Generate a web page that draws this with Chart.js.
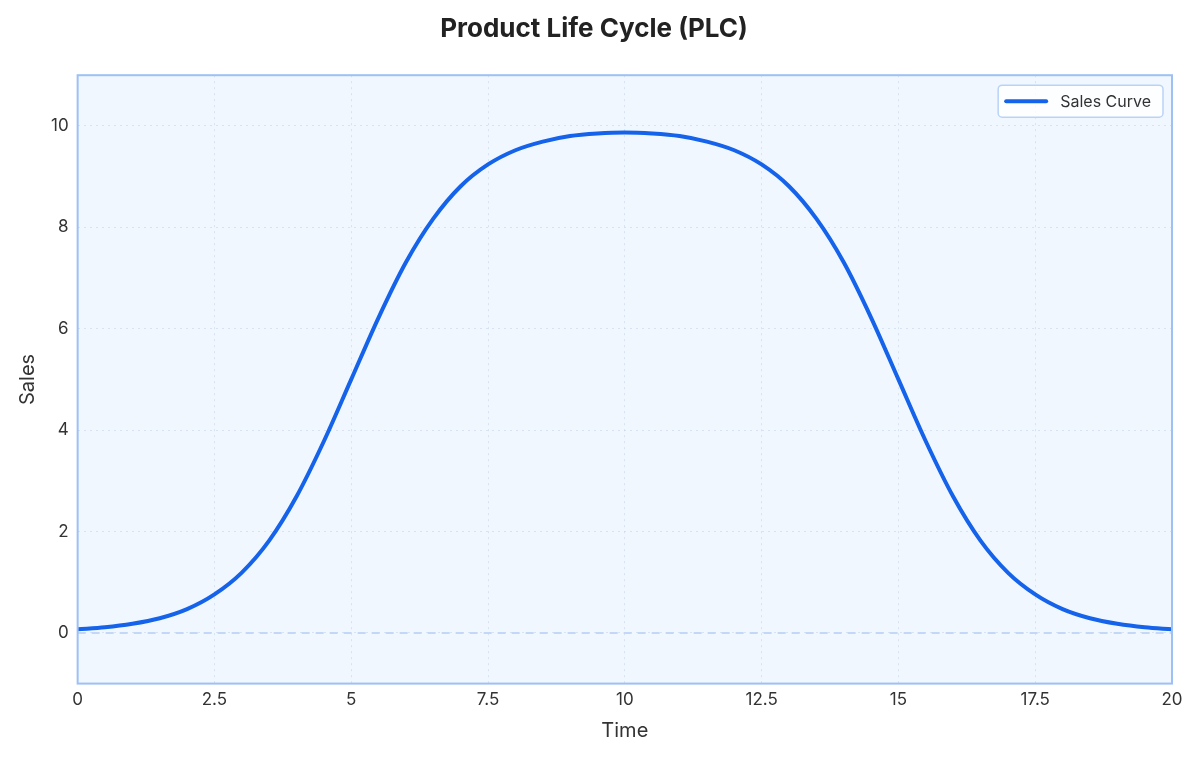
<!DOCTYPE html>
<html>
<head>
<meta charset="utf-8">
<script src="https://cdn.jsdelivr.net/npm/chart.js@4"></script>
<style>
  html, body { margin: 0; padding: 0; background: #ffffff; }
  #wrap { width: 1200px; height: 760px; position: relative; }
</style>
</head>
<body>
<div id="wrap"><canvas id="c" width="1200" height="760"></canvas></div>
<script>
const chartTitle = "Product Life Cycle (PLC)";
const xTitle = "Time";
const yTitle = "Sales";
const seriesLabel = "Sales Curve";
const timeValues = [0,0.5,1,1.5,2,2.5,3,3.5,4,4.5,5,5.5,6,6.5,7,7.5,8,8.5,9,9.5,10,
  10.5,11,11.5,12,12.5,13,13.5,14,14.5,15,15.5,16,16.5,17,17.5,18,18.5,19,19.5,20];
const salesValues = [0.07,0.11,0.18,0.29,0.47,0.76,1.19,1.82,2.69,3.78,5.00,6.22,7.31,8.17,8.81,9.24,9.52,9.69,9.80,9.85,9.87,
  9.85,9.80,9.69,9.52,9.24,8.81,8.17,7.31,6.22,5.00,3.78,2.69,1.82,1.19,0.76,0.47,0.29,0.18,0.11,0.07];
const xTicks = [0,2.5,5,7.5,10,12.5,15,17.5,20];
const yTicks = [0,2,4,6,8,10];
const baselineValue = 0;

const FONT = "Inter, 'Noto Sans', sans-serif";
const LINE_COLOR = "#1463ea";

const areaPlugin = {
  id: 'areaPlugin',
  beforeDraw(chart) {
    const {ctx, chartArea: a} = chart;
    ctx.save();
    ctx.fillStyle = "#f1f7fe";
    ctx.fillRect(a.left, a.top, a.right - a.left, a.bottom - a.top);
    ctx.restore();
  },
  afterDraw(chart) {
    const {ctx, chartArea: a} = chart;
    ctx.save();
    ctx.strokeStyle = "#9dc1f4";
    ctx.lineWidth = 2;
    ctx.strokeRect(a.left, a.top, a.right - a.left, a.bottom - a.top);
    // legend inside top-right
    const label = chart.data.datasets[0].label;
    ctx.font = "16px " + FONT;
    const tw = ctx.measureText(label).width;
    const bw = tw + 74, bh = 32;
    const bx = a.right - 9 - bw, by = a.top + 10;
    ctx.beginPath();
    if (ctx.roundRect) ctx.roundRect(bx, by, bw, bh, 4); else ctx.rect(bx, by, bw, bh);
    ctx.fillStyle = "rgba(255,255,255,0.8)";
    ctx.fill();
    ctx.strokeStyle = "#b9d3f7";
    ctx.lineWidth = 1.5;
    ctx.stroke();
    ctx.beginPath();
    ctx.lineCap = "round";
    ctx.strokeStyle = LINE_COLOR;
    ctx.lineWidth = 4;
    ctx.moveTo(bx + 8, by + bh / 2);
    ctx.lineTo(bx + 48, by + bh / 2);
    ctx.stroke();
    ctx.fillStyle = "#333333";
    ctx.textBaseline = "middle";
    ctx.textAlign = "left";
    ctx.fillText(label, bx + 62, by + bh / 2 + 1);
    ctx.restore();
  }
};

const ctx = document.getElementById('c').getContext('2d');
new Chart(ctx, {
  type: 'line',
  data: {
    datasets: [
      {
        label: seriesLabel,
        data: timeValues.map((t, i) => ({x: t, y: salesValues[i]})),
        borderColor: LINE_COLOR,
        borderWidth: 4,
        pointRadius: 0,
        fill: false,
        cubicInterpolationMode: 'monotone',
        order: 1
      },
      {
        label: 'baseline',
        data: [{x: timeValues[0], y: baselineValue}, {x: timeValues[timeValues.length - 1], y: baselineValue}],
        borderColor: "#c3d7f7",
        borderWidth: 2,
        borderDash: [8, 6],
        pointRadius: 0,
        fill: false,
        order: 2
      }
    ]
  },
  plugins: [areaPlugin],
  options: {
    responsive: false,
    animation: false,
    devicePixelRatio: 1,
    layout: { padding: { left: 16, right: 28, top: 10, bottom: 17 } },
    plugins: {
      legend: { display: false },
      tooltip: { enabled: false },
      title: {
        display: true,
        text: chartTitle,
        color: "#222222",
        font: { family: FONT, size: 26, weight: 'bold' },
        padding: { top: 4, bottom: 30 }
      }
    },
    scales: {
      x: {
        type: 'linear',
        min: 0,
        max: 20,
        afterBuildTicks(scale) { scale.ticks = xTicks.map(v => ({value: v})); },
        ticks: {
          color: "#333333",
          font: { family: FONT, size: 17 },
          padding: 6,
          callback: v => String(v)
        },
        grid: { color: "rgba(190,205,230,0.5)", lineWidth: 1, drawTicks: false },
        border: { display: false, dash: [2, 4] },
        title: {
          display: true,
          text: xTitle,
          color: "#333333",
          font: { family: FONT, size: 20 },
          padding: { top: 3, bottom: 0 }
        }
      },
      y: {
        type: 'linear',
        min: -1,
        max: 11,
        afterBuildTicks(scale) { scale.ticks = yTicks.map(v => ({value: v})); },
        ticks: {
          color: "#333333",
          font: { family: FONT, size: 17 },
          padding: 9,
          callback: v => String(v)
        },
        grid: { color: "rgba(190,205,230,0.5)", lineWidth: 1, drawTicks: false },
        border: { display: false, dash: [2, 4] },
        title: {
          display: true,
          text: yTitle,
          color: "#333333",
          font: { family: FONT, size: 20 },
          padding: { top: 0, bottom: 2 }
        }
      }
    }
  }
});
</script>
</body>
</html>
